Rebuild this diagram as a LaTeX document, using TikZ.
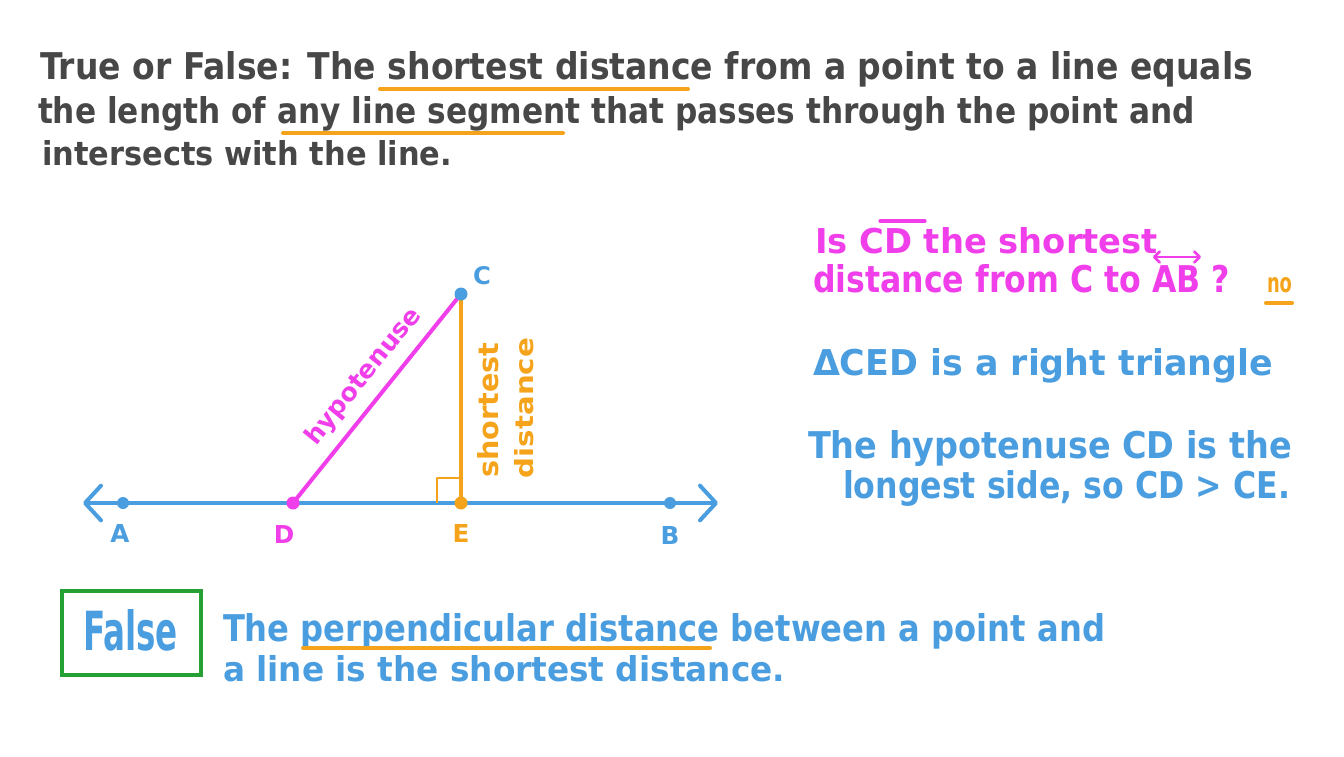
\documentclass[tikz,border=0pt]{standalone}
\usepackage{fontspec}
\setmainfont{DejaVu Sans}
\usetikzlibrary{arrows.meta,calc}
\newlength\px \setlength\px{0.75pt}
\newcommand\fitw[3]{\resizebox{#1\px}{#2\px}{\bfseries #3}}
\newcommand\fith[2]{\resizebox{!}{#1\px}{\bfseries #2}}
\definecolor{ink}{HTML}{474747}
\definecolor{bl}{HTML}{4A9EE0}
\definecolor{mg}{HTML}{F03EEA}
\definecolor{og}{HTML}{F5A31A}
\definecolor{gr}{HTML}{25A035}
\tikzset{
  txt/.style={inner sep=0pt, outer sep=0pt, anchor=base west},
  lbl/.style={inner sep=0pt, outer sep=0pt, anchor=center},
  dotpt/.style={circle, inner sep=0pt, minimum size=#1\px},
  uline/.style={draw=og, line width=3pt, line cap=round},
  geo/.style={line width=3pt, line cap=round, line join=round},
  barb/.style={arrows={Straight Barb[length=12pt,width=26pt,round]-Straight Barb[length=12pt,width=26pt,round]}},
}
\begin{document}
\begin{tikzpicture}[x=0.75pt,y=-0.75pt]
\useasboundingbox[fill=white] (0,0) rectangle (1344,756);

% ---- title ----
\node[txt] (t1) at (40,80) {\fitw{1213}{28}{\textcolor{ink}{True or False: The shortest distance from a point to a line equals}}};
\node[txt] (t2) at (38,124) {\fitw{1157}{27}{\textcolor{ink}{the length of any line segment that passes through the point and}}};
\node[txt] (t3) at (42,166) {\fitw{410}{25}{\textcolor{ink}{intersects with the line.}}};
\draw[uline] (380,89) -- (688,89);
\draw[uline] (283,133) -- (563,133);

% ---- diagram ----
\coordinate (L) at (83,503);
\coordinate (R) at (718,503);
\coordinate (pA) at (123,503);
\coordinate (pD) at (293,503);
\coordinate (pE) at (461,503);
\coordinate (pB) at (670,503);
\coordinate (pC) at (461,294);

\draw[geo, draw=bl, barb] (L) -- (R);
\draw[geo, draw=mg] (pD) -- (pC);
\draw[geo, draw=og] (pE) -- (pC);
\draw[draw=og, line width=2.2pt, line join=round] ($(pE)+(-24,0)$) |- ($(pE)+(0,-25)$);

\node[dotpt=12, fill=bl] (A) at (pA) {};
\node[dotpt=13, fill=mg] (D) at (pD) {};
\node[dotpt=13, fill=og] (E) at (pE) {};
\node[dotpt=12, fill=bl] (B) at (pB) {};
\node[dotpt=13, fill=bl] (C) at (pC) {};

\node[lbl] (labA) at (120,533) {\fith{18}{\textcolor{bl}{A}}};
\node[lbl] (labD) at (284,534) {\fith{18}{\textcolor{mg}{D}}};
\node[lbl] (labE) at (461,533) {\fith{18}{\textcolor{og}{E}}};
\node[lbl] (labB) at (670,535) {\fith{18}{\textcolor{bl}{B}}};
\node[lbl] (labC) at (482,276) {\fith{18}{\textcolor{bl}{C}}};

\node[inner sep=0pt, anchor=base, rotate=51] (hyp) at (369,381) {\fitw{168}{19}{\textcolor{mg}{hypotenuse}}};
\node[inner sep=0pt, anchor=base, rotate=90] (sh1) at (498,410) {\fitw{135}{21}{\textcolor{og}{shortest}}};
\node[inner sep=0pt, anchor=base, rotate=90] (sh2) at (533,408) {\fitw{140}{19}{\textcolor{og}{distance}}};

% ---- right column ----
\node[txt] (r1) at (815,253) {\fitw{343}{26}{\textcolor{mg}{Is CD the shortest}}};
\draw[draw=mg, line width=2.4pt, line cap=round] (880,221) -- (925,221);
\node[txt] (r2) at (813,292) {\fitw{417}{28}{\textcolor{mg}{distance from C to AB ?}}};
\draw[draw=mg, line width=2pt, arrows={Straight Barb[length=4pt,width=8pt,round]-Straight Barb[length=4pt,width=8pt,round]}] (1153,257) -- (1201,257);
\node[txt] (no) at (1267,292) {\fitw{25}{15}{\textcolor{og}{no}}};
\draw[uline] (1266,303) -- (1292,303);
\node[txt] (r3) at (813,375) {\fitw{460}{27}{\textcolor{bl}{ΔCED is a right triangle}}};
\node[txt] (r4) at (808,458) {\fitw{484}{28}{\textcolor{bl}{The hypotenuse CD is the}}};
\node[txt] (r5) at (843,498) {\fitw{447}{28}{\textcolor{bl}{longest side, so CD > CE.}}};

% ---- bottom ----
\node[draw=gr, line width=3pt, minimum width=139\px, minimum height=84\px, inner sep=0pt] (fbox) at (131.5,633) {};
\node[txt] (false) at (83,650) {\fitw{95}{41}{\textcolor{bl}{False}}};
\node[txt] (b1) at (223,641) {\fitw{882}{28}{\textcolor{bl}{The perpendicular distance between a point and}}};
\draw[uline] (303,648) -- (710,648);
\node[txt] (b2) at (223,681) {\fitw{562}{26}{\textcolor{bl}{a line is the shortest distance.}}};
\end{tikzpicture}
\end{document}
